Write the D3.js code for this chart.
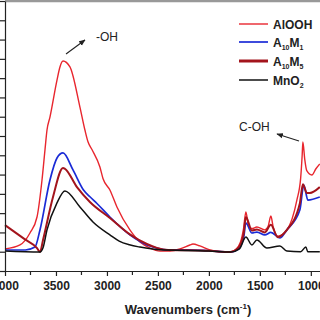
<!DOCTYPE html>
<html>
<head>
<meta charset="utf-8">
<script src="https://cdn.jsdelivr.net/npm/d3@7"></script>
<style>
  html, body { margin: 0; padding: 0; background: #fff; }
  svg { display: block; font-family: Arial, "Liberation Sans", sans-serif; }
</style>
</head>
<body>
<div id="chart"></div>
<script>
// FTIR spectra, absorbance in arbitrary units
const alooh = [
  [4000, 1.14], [3853, 1.35], [3755, 1.97], [3686, 2.80], [3637, 4.72], [3608, 6.27],
  [3588, 7.31], [3559, 7.98], [3490, 9.90], [3461, 10.58], [3431, 10.89], [3363, 10.58],
  [3265, 8.50], [3216, 7.31], [3186, 6.70], [3147, 6.30], [3069, 5.39], [3039, 4.80],
  [2971, 4.20], [2902, 3.32], [2775, 2.13], [2676, 1.50], [2578, 1.19], [2480, 1.04],
  [2382, 1.04], [2284, 1.14], [2186, 1.35], [2157, 1.40], [2088, 1.30], [1990, 1.09],
  [1892, 1.00], [1790, 0.98], [1740, 1.10], [1690, 1.50], [1660, 2.20], [1637, 3.06],
  [1610, 2.30], [1578, 2.20], [1529, 2.28], [1451, 2.13], [1420, 2.30], [1392, 2.85],
  [1370, 2.30], [1324, 1.81], [1235, 2.13], [1137, 3.68], [1100, 4.80], [1085, 6.00],
  [1078, 6.69], [1060, 5.80], [1040, 5.20], [990, 4.98], [950, 5.30], [912, 5.55]
];
const a10m1 = [
  [4000, 1.09], [3800, 1.09], [3706, 1.24], [3657, 2.13], [3559, 4.72], [3490, 5.86],
  [3431, 6.12], [3333, 5.24], [3230, 4.20], [3167, 3.85], [3098, 3.50], [2971, 2.80],
  [2775, 1.87], [2608, 1.35], [2510, 1.19], [2400, 1.09], [2200, 1.10], [2000, 1.05],
  [1790, 0.98], [1720, 1.10], [1660, 1.70], [1637, 2.49], [1578, 1.97], [1529, 2.02],
  [1451, 1.87], [1392, 2.00], [1304, 1.71], [1235, 2.13], [1108, 3.16], [1069, 4.46],
  [1029, 3.68], [912, 3.84]
];
const a10m5 = [
  [4000, 2.38], [3804, 1.64], [3686, 1.19], [3657, 0.98], [3627, 1.61], [3529, 3.84],
  [3431, 5.34], [3412, 5.30], [3294, 4.35], [3167, 3.58], [2971, 2.75], [2775, 1.90],
  [2608, 1.40], [2510, 1.20], [2400, 1.09], [2000, 1.05], [1790, 0.98], [1720, 1.15],
  [1660, 1.90], [1637, 2.80], [1578, 2.10], [1529, 2.15], [1451, 2.00], [1392, 2.40],
  [1324, 1.75], [1235, 2.13], [1108, 3.50], [1078, 4.50], [1039, 4.04], [1010, 4.04],
  [912, 4.35]
];
const mno2 = [
  [4000, 1.04], [3657, 0.98], [3627, 1.20], [3588, 2.13], [3490, 3.53], [3412, 4.15],
  [3265, 3.32], [3137, 2.54], [2971, 1.87], [2880, 1.55], [2780, 1.36], [2676, 1.24],
  [2480, 1.10], [2000, 1.04], [1790, 0.98], [1700, 1.15], [1637, 1.76], [1578, 1.35],
  [1529, 1.61], [1431, 1.19], [1304, 1.30], [1235, 1.04], [1100, 1.00], [1049, 1.24],
  [1030, 1.00], [912, 1.00]
];

const seriesNames = ["AlOOH", "A10M1", "A10M5", "MnO2"];
const seriesColors = ["#e8262e", "#1a2bd6", "#a3141c", "#111111"];
const seriesWidths = [1.4, 1.7, 2.0, 1.5];
const xTicks = [4000, 3500, 3000, 2500, 2000, 1500, 1000];
const xMinorTicks = [3750, 3250, 2750, 2250, 1750, 1250];
const yTicks = d3.range(0, 15);

const width = 320, height = 320;
const x = d3.scaleLinear().domain([4000, 400]).range([5, 372]);
const y = d3.scaleLinear().domain([0, 14]).range([271, 1]);

const svg = d3.select("#chart").append("svg")
    .attr("width", width)
    .attr("height", height);

// top frame line
svg.append("line")
    .attr("x1", 5).attr("x2", width)
    .attr("y1", 1).attr("y2", 1)
    .attr("stroke", "#999").attr("stroke-width", 2.5);

// curves
const line = d3.line()
    .x(d => x(d[0]))
    .y(d => y(d[1]))
    .curve(d3.curveMonotoneX);

[alooh, a10m1, a10m5, mno2].forEach((data, i) => {
    svg.append("path")
        .datum(data)
        .attr("fill", "none")
        .attr("stroke", seriesColors[i])
        .attr("stroke-width", seriesWidths[i])
        .attr("stroke-linejoin", "round")
        .attr("d", line);
});

// x axis
const xAxis = svg.append("g")
    .attr("transform", `translate(0, ${y(0)})`)
    .call(d3.axisBottom(x).tickValues(xTicks).tickFormat(d3.format("d"))
        .tickSize(5).tickPadding(5).tickSizeOuter(0));
xAxis.select(".domain").attr("stroke", "#222").attr("stroke-width", 1.2);
xAxis.selectAll(".tick line").attr("stroke", "#222").attr("stroke-width", 1.2);
xAxis.selectAll(".tick text")
    .attr("font-size", 12).attr("font-weight", "bold").attr("fill", "#222")
    .attr("font-family", "Arial, 'Liberation Sans', sans-serif");
xAxis.selectAll(".minor")
    .data(xMinorTicks).enter().append("line")
    .attr("x1", d => x(d)).attr("x2", d => x(d))
    .attr("y1", 0).attr("y2", 4)
    .attr("stroke", "#222").attr("stroke-width", 1.2);

// y axis (labels fall outside the crop)
const yAxis = svg.append("g")
    .attr("transform", `translate(${x(4000)}, 0)`)
    .call(d3.axisLeft(y).tickValues(yTicks).tickSize(5).tickFormat("").tickSizeOuter(0));
yAxis.select(".domain").attr("stroke", "#222").attr("stroke-width", 1.2);
yAxis.selectAll(".tick line").attr("stroke", "#222").attr("stroke-width", 1.2);

// axis title
const xTitle = svg.append("text")
    .attr("x", 188).attr("y", 314)
    .attr("text-anchor", "middle")
    .attr("font-size", 13).attr("font-weight", "bold").attr("fill", "#222");
xTitle.append("tspan").text("Wavenumbers (cm");
xTitle.append("tspan").attr("dy", -5).attr("font-size", 8).text("-1");
xTitle.append("tspan").attr("dy", 5).text(")");

// legend
const legendY = [24, 42, 61, 80];
const legendLabels = [
    [["AlOOH", false]],
    [["A", false], ["10", true], ["M", false], ["1", true]],
    [["A", false], ["10", true], ["M", false], ["5", true]],
    [["MnO", false], ["2", true]]
];
seriesNames.forEach((name, i) => {
    svg.append("line")
        .attr("x1", 239).attr("x2", 268)
        .attr("y1", legendY[i]).attr("y2", legendY[i])
        .attr("stroke", seriesColors[i])
        .attr("stroke-width", i === 2 ? 3 : seriesWidths[i]);
    const t = svg.append("text")
        .attr("x", 273).attr("y", legendY[i] + 4.5)
        .attr("font-size", 12).attr("font-weight", "bold").attr("fill", "#222");
    let shifted = false;
    legendLabels[i].forEach(([s, sub]) => {
        const sp = t.append("tspan").text(s);
        if (sub && !shifted) { sp.attr("dy", 3).attr("font-size", 7); shifted = true; }
        else if (sub) { sp.attr("font-size", 7); }
        else if (shifted) { sp.attr("dy", -3); shifted = false; }
    });
});

// annotations
svg.append("defs").append("marker")
    .attr("id", "arrow")
    .attr("viewBox", "0 0 10 10")
    .attr("refX", 9).attr("refY", 5)
    .attr("markerWidth", 6).attr("markerHeight", 6)
    .attr("orient", "auto")
    .append("path").attr("d", "M0,1 L10,5 L0,9 Z").attr("fill", "#222");

svg.append("line")
    .attr("x1", 66).attr("y1", 54).attr("x2", 85).attr("y2", 40)
    .attr("stroke", "#222").attr("stroke-width", 1.1)
    .attr("marker-end", "url(#arrow)");
svg.append("text")
    .attr("x", 96).attr("y", 41)
    .attr("font-size", 12).attr("fill", "#222")
    .text("-OH");

svg.append("line")
    .attr("x1", 299).attr("y1", 141).attr("x2", 277).attr("y2", 134)
    .attr("stroke", "#222").attr("stroke-width", 1.1)
    .attr("marker-end", "url(#arrow)");
svg.append("text")
    .attr("x", 239).attr("y", 131)
    .attr("font-size", 12).attr("fill", "#222")
    .text("C-OH");
</script>
</body>
</html>
